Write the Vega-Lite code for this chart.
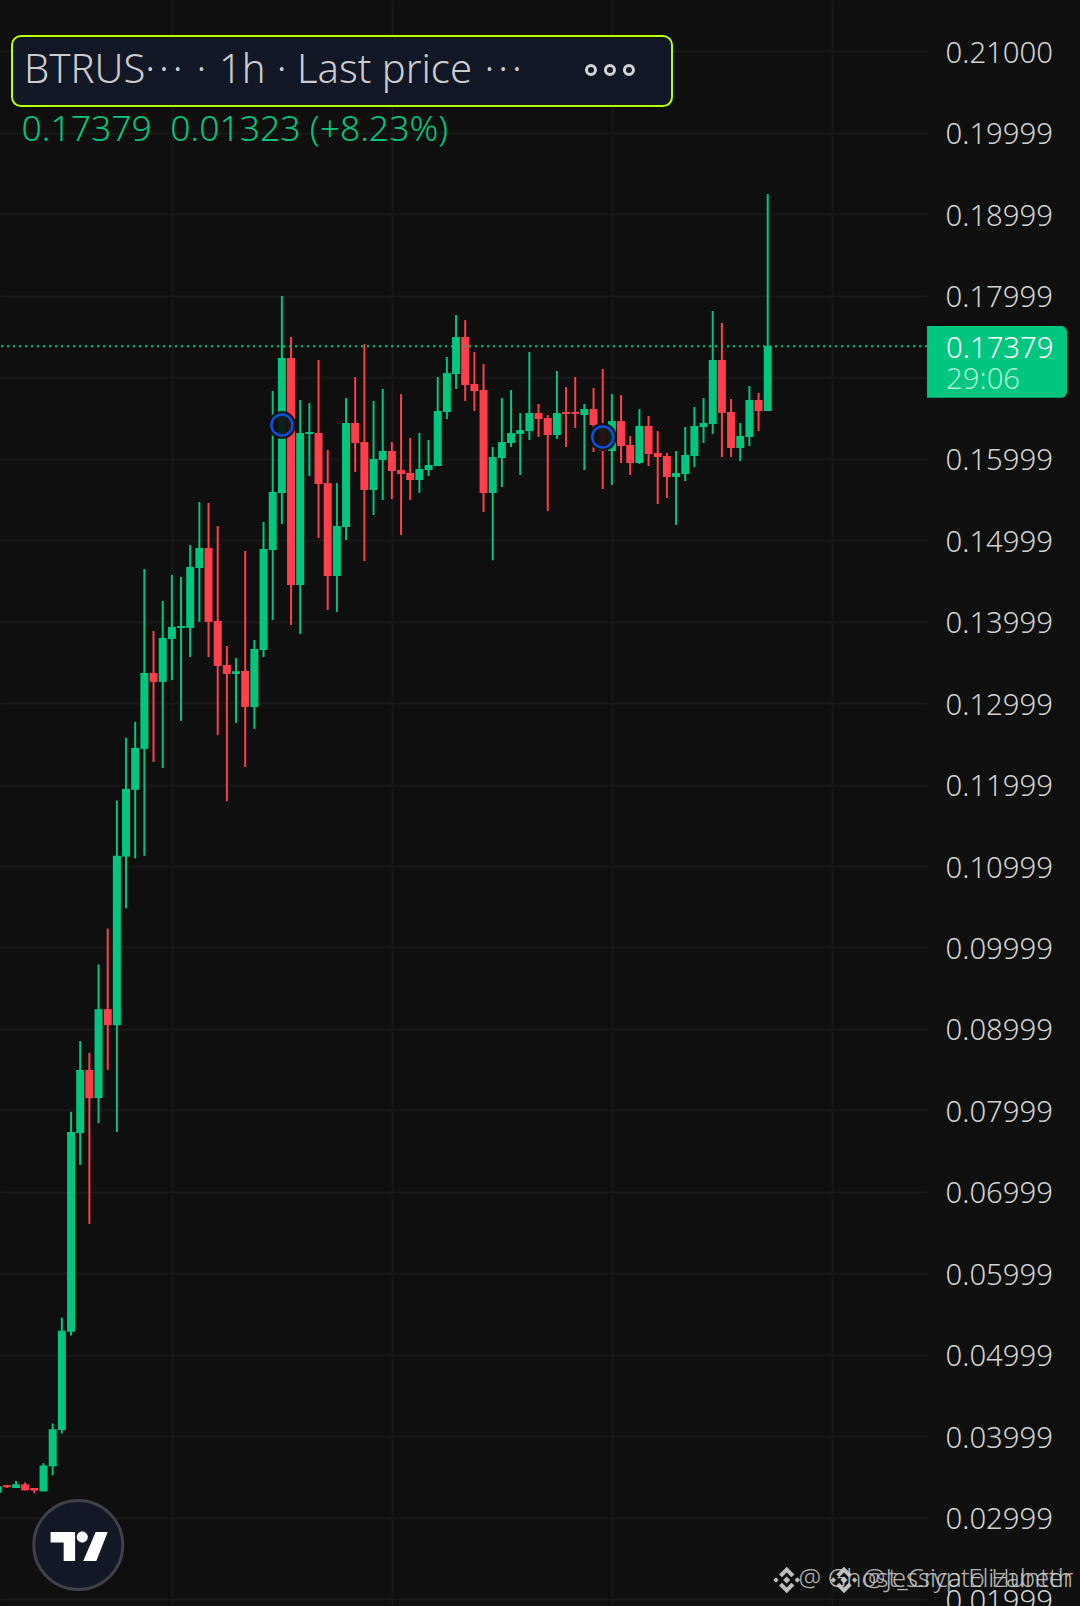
{
  "$schema": "https://vega.github.io/schema/vega-lite/v6.json",
  "width": 927,
  "height": 1606,
  "padding": {"left": 0, "top": 0, "right": 153, "bottom": 0},
  "autosize": {"type": "none"},
  "background": "#0f0f0f",
  "config": {
    "view": {"stroke": null},
    "font": "Noto Sans",
    "text": {"font": "Noto Sans"}
  },
  "resolve": {"axis": {"x": "independent", "y": "independent"}},
  "data": {
    "values": [
      {"i":0,"open":0.03306,"high":0.03387,"low":0.03306,"close":0.03387},
      {"i":1,"open":0.03398,"high":0.03398,"low":0.03364,"close":0.03375},
      {"i":2,"open":0.03364,"high":0.0345,"low":0.03364,"close":0.0341},
      {"i":3,"open":0.0341,"high":0.03433,"low":0.03335,"close":0.03335},
      {"i":4,"open":0.03364,"high":0.03364,"low":0.033,"close":0.03335},
      {"i":5,"open":0.03323,"high":0.0367,"low":0.03323,"close":0.03641},
      {"i":6,"open":0.0363,"high":0.04156,"low":0.0352,"close":0.04086},
      {"i":7,"open":0.04075,"high":0.05456,"low":0.04034,"close":0.05294},
      {"i":8,"open":0.05283,"high":0.07982,"low":0.05236,"close":0.07733},
      {"i":9,"open":0.07722,"high":0.08849,"low":0.07329,"close":0.08496},
      {"i":10,"open":0.08496,"high":0.08704,"low":0.06606,"close":0.0815},
      {"i":11,"open":0.0815,"high":0.09791,"low":0.07843,"close":0.09242},
      {"i":12,"open":0.09242,"high":0.1023,"low":0.08496,"close":0.09045},
      {"i":13,"open":0.09045,"high":0.11802,"low":0.07733,"close":0.11126},
      {"i":14,"open":0.11115,"high":0.12572,"low":0.10479,"close":0.11946},
      {"i":15,"open":0.11934,"high":0.12768,"low":0.11092,"close":0.12449},
      {"i":16,"open":0.12437,"high":0.14645,"low":0.11126,"close":0.13369},
      {"i":17,"open":0.13369,"high":0.13884,"low":0.12277,"close":0.13259},
      {"i":18,"open":0.13259,"high":0.14253,"low":0.12203,"close":0.13799},
      {"i":19,"open":0.13786,"high":0.14572,"low":0.13283,"close":0.13934},
      {"i":20,"open":0.13921,"high":0.14547,"low":0.1278,"close":0.13946},
      {"i":21,"open":0.13921,"high":0.1494,"low":0.13565,"close":0.1467},
      {"i":22,"open":0.14657,"high":0.15467,"low":0.13995,"close":0.14903},
      {"i":23,"open":0.14903,"high":0.15455,"low":0.13565,"close":0.13995},
      {"i":24,"open":0.14007,"high":0.15173,"low":0.12608,"close":0.13455},
      {"i":25,"open":0.13467,"high":0.137,"low":0.11794,"close":0.13357},
      {"i":26,"open":0.13357,"high":0.13553,"low":0.12756,"close":0.1339},
      {"i":27,"open":0.13394,"high":0.14866,"low":0.12216,"close":0.12952},
      {"i":28,"open":0.12952,"high":0.13774,"low":0.12682,"close":0.13664},
      {"i":29,"open":0.13651,"high":0.15222,"low":0.13565,"close":0.14891},
      {"i":30,"open":0.14878,"high":0.16829,"low":0.14019,"close":0.1559},
      {"i":31,"open":0.15578,"high":0.17995,"low":0.15197,"close":0.17234},
      {"i":32,"open":0.17234,"high":0.17492,"low":0.13958,"close":0.14449},
      {"i":33,"open":0.14449,"high":0.16719,"low":0.13848,"close":0.16314},
      {"i":34,"open":0.16302,"high":0.16682,"low":0.15786,"close":0.16326},
      {"i":35,"open":0.16314,"high":0.1721,"low":0.15026,"close":0.15688},
      {"i":36,"open":0.157,"high":0.16105,"low":0.14142,"close":0.14559},
      {"i":37,"open":0.14559,"high":0.157,"low":0.14118,"close":0.15173},
      {"i":38,"open":0.15161,"high":0.16743,"low":0.15001,"close":0.16437},
      {"i":39,"open":0.16437,"high":0.17001,"low":0.15835,"close":0.16191},
      {"i":40,"open":0.16203,"high":0.17406,"low":0.14743,"close":0.15615},
      {"i":41,"open":0.15615,"high":0.16707,"low":0.15308,"close":0.15995},
      {"i":42,"open":0.15983,"high":0.16854,"low":0.15492,"close":0.16093},
      {"i":43,"open":0.16093,"high":0.16203,"low":0.15504,"close":0.15848},
      {"i":44,"open":0.1586,"high":0.16792,"low":0.15062,"close":0.15811},
      {"i":45,"open":0.15823,"high":0.16253,"low":0.15492,"close":0.15737},
      {"i":46,"open":0.15737,"high":0.16314,"low":0.15578,"close":0.15872},
      {"i":47,"open":0.1586,"high":0.16228,"low":0.15786,"close":0.15921},
      {"i":48,"open":0.15909,"high":0.17001,"low":0.15909,"close":0.16584},
      {"i":49,"open":0.16572,"high":0.17246,"low":0.16486,"close":0.1705},
      {"i":50,"open":0.17038,"high":0.17762,"low":0.16854,"close":0.17492},
      {"i":51,"open":0.17492,"high":0.177,"low":0.16707,"close":0.16903},
      {"i":52,"open":0.16915,"high":0.17308,"low":0.16584,"close":0.16829},
      {"i":53,"open":0.16842,"high":0.17161,"low":0.15345,"close":0.15578},
      {"i":54,"open":0.15578,"high":0.16142,"low":0.14752,"close":0.16019},
      {"i":55,"open":0.16007,"high":0.16743,"low":0.15651,"close":0.16203},
      {"i":56,"open":0.16191,"high":0.16842,"low":0.16142,"close":0.16314},
      {"i":57,"open":0.16302,"high":0.16559,"low":0.15799,"close":0.16351},
      {"i":58,"open":0.16338,"high":0.17308,"low":0.16228,"close":0.16559},
      {"i":59,"open":0.16559,"high":0.1667,"low":0.16265,"close":0.16486},
      {"i":60,"open":0.16498,"high":0.16535,"low":0.15357,"close":0.16289},
      {"i":61,"open":0.16289,"high":0.17075,"low":0.1624,"close":0.16559},
      {"i":62,"open":0.16572,"high":0.16878,"low":0.16142,"close":0.16547},
      {"i":63,"open":0.16572,"high":0.17001,"low":0.16375,"close":0.16547},
      {"i":64,"open":0.16535,"high":0.1667,"low":0.1586,"close":0.16608},
      {"i":65,"open":0.16608,"high":0.16866,"low":0.16081,"close":0.16412},
      {"i":66,"open":0.16412,"high":0.17099,"low":0.15627,"close":0.16093},
      {"i":67,"open":0.16093,"high":0.16792,"low":0.15676,"close":0.16461},
      {"i":68,"open":0.16461,"high":0.1678,"low":0.15946,"close":0.16154},
      {"i":69,"open":0.16167,"high":0.16277,"low":0.15799,"close":0.15946},
      {"i":70,"open":0.15946,"high":0.16608,"low":0.15934,"close":0.164},
      {"i":71,"open":0.164,"high":0.16523,"low":0.15909,"close":0.16056},
      {"i":72,"open":0.16069,"high":0.16338,"low":0.15443,"close":0.16019},
      {"i":73,"open":0.16032,"high":0.16069,"low":0.15516,"close":0.15774},
      {"i":74,"open":0.15774,"high":0.16093,"low":0.15185,"close":0.15823},
      {"i":75,"open":0.15811,"high":0.16388,"low":0.15725,"close":0.16044},
      {"i":76,"open":0.16032,"high":0.16633,"low":0.15897,"close":0.164},
      {"i":77,"open":0.16388,"high":0.16743,"low":0.16191,"close":0.16437},
      {"i":78,"open":0.16424,"high":0.17811,"low":0.16302,"close":0.1721},
      {"i":79,"open":0.1721,"high":0.17664,"low":0.16019,"close":0.16559},
      {"i":80,"open":0.16572,"high":0.16731,"low":0.16019,"close":0.1613},
      {"i":81,"open":0.1613,"high":0.16437,"low":0.1597,"close":0.16277},
      {"i":82,"open":0.16265,"high":0.16891,"low":0.16154,"close":0.16719},
      {"i":83,"open":0.16719,"high":0.16805,"low":0.16338,"close":0.16584},
      {"i":84,"open":0.16584,"high":0.19246,"low":0.16584,"close":0.17379}
    ]
  },
  "layer": [
    {
      "mark": {"type": "rule", "strokeWidth": 2},
      "encoding": {
        "x": {
          "field": "i",
          "type": "quantitative",
          "scale": {"domain": [0.251, 101.375], "nice": false, "zero": false, "padding": 0},
          "axis": {
            "orient": "bottom",
            "values": [19, 43, 67, 91],
            "labels": false,
            "ticks": false,
            "domain": false,
            "title": null,
            "grid": true,
            "gridColor": "#191919",
            "gridWidth": 2
          }
        },
        "y": {
          "field": "high",
          "type": "quantitative",
          "scale": {"domain": [0.01916, 0.21629], "nice": false, "zero": false},
          "axis": {
            "orient": "right",
            "values": [0.21, 0.19999, 0.18999, 0.17999, 0.16999, 0.15999, 0.14999, 0.13999, 0.12999, 0.11999, 0.10999, 0.09999, 0.08999, 0.07999, 0.06999, 0.05999, 0.04999, 0.03999, 0.02999, 0.01999],
            "format": ".5f",
            "ticks": false,
            "domain": false,
            "title": null,
            "grid": true,
            "gridColor": "#191919",
            "gridWidth": 2,
            "labelPadding": 18,
            "labelOffset": 2,
            "labelFont": "Noto Sans",
            "labelFontSize": 29.3,
            "labelFontWeight": 300,
            "labelColor": "#d2d2d2",
            "labelOverlap": false,
            "labelBound": false,
            "labelFlush": false
          }
        },
        "y2": {"field": "low"},
        "color": {"condition": {"test": "datum.close >= datum.open", "value": "#00c67f"}, "value": "#ff3f4c"}
      }
    },
    {
      "mark": {"type": "bar", "size": 8},
      "encoding": {
        "x": {"field": "i", "type": "quantitative", "axis": null},
        "y": {"field": "open", "type": "quantitative", "axis": null},
        "y2": {"field": "close"},
        "color": {"condition": {"test": "datum.close >= datum.open", "value": "#00c67f"}, "value": "#ff3f4c"}
      }
    },
    {
      "data": {"values": [{"price": 0.17379}]},
      "mark": {"type": "rule", "stroke": "#00c67f", "strokeWidth": 2, "strokeDash": [2, 4]},
      "encoding": {"y": {"field": "price", "type": "quantitative", "axis": null}}
    },
    {
      "data": {"values": [{"i": 31, "price": 0.16412}, {"i": 66, "price": 0.16265}]},
      "mark": {"type": "point", "filled": false, "fill": "#0f0f0f", "fillOpacity": 1, "stroke": "#0f0f0f", "strokeWidth": 3, "opacity": 0.9, "size": 625},
      "encoding": {
        "x": {"field": "i", "type": "quantitative", "axis": null},
        "y": {"field": "price", "type": "quantitative", "axis": null}
      }
    },
    {
      "data": {"values": [{"i": 31, "price": 0.16412}, {"i": 66, "price": 0.16265}]},
      "mark": {"type": "point", "filled": false, "stroke": "#0b50dc", "strokeWidth": 2.5, "opacity": 1, "size": 441},
      "encoding": {
        "x": {"field": "i", "type": "quantitative", "axis": null},
        "y": {"field": "price", "type": "quantitative", "axis": null}
      }
    },
    {
      "data": {"values": [{"i": 1.56, "i2": 73.56, "p": 0.21187, "p2": 0.20327}]},
      "mark": {"type": "rect", "fill": "#121726", "stroke": "#b9ff00", "strokeWidth": 2, "cornerRadius": 9},
      "encoding": {
        "x": {"field": "i", "type": "quantitative", "axis": null},
        "x2": {"field": "i2"},
        "y": {"field": "p", "type": "quantitative", "axis": null},
        "y2": {"field": "p2"}
      }
    },
    {
      "data": {
        "values": [
          {"i": 2.87, "p": 0.2061, "label": "BTRUS·\u200a·\u200a·"},
          {"i": 21.7, "p": 0.2061, "label": "·"},
          {"i": 24.14, "p": 0.2061, "label": "1h"},
          {"i": 30.43, "p": 0.2061, "label": "·"},
          {"i": 32.65, "p": 0.2061, "label": "Last price"},
          {"i": 53.1, "p": 0.2061, "label": "·\u200a·\u200a·"}
        ]
      },
      "mark": {"type": "text", "align": "left", "baseline": "alphabetic", "fontSize": 40, "fontWeight": 300, "color": "#cccccc"},
      "encoding": {
        "x": {"field": "i", "type": "quantitative", "axis": null},
        "y": {"field": "p", "type": "quantitative", "axis": null},
        "text": {"field": "label"}
      }
    },
    {
      "data": {"values": [{"i": 64.72, "p": 0.20769}, {"i": 66.79, "p": 0.20769}, {"i": 68.86, "p": 0.20769}]},
      "mark": {"type": "point", "filled": false, "stroke": "#d4d4d4", "strokeWidth": 3, "opacity": 1, "size": 81},
      "encoding": {
        "x": {"field": "i", "type": "quantitative", "axis": null},
        "y": {"field": "p", "type": "quantitative", "axis": null}
      }
    },
    {
      "data": {"values": [{"i": 2.6, "p": 0.19897, "label": "0.17379\u00a0\u00a00.01323 (+8.23%)"}]},
      "mark": {"type": "text", "align": "left", "baseline": "alphabetic", "fontSize": 35.5, "fontWeight": 300, "color": "#00c67f"},
      "encoding": {
        "x": {"field": "i", "type": "quantitative", "axis": null},
        "y": {"field": "p", "type": "quantitative", "axis": null},
        "text": {"field": "label"}
      }
    },
    {
      "data": {"values": [{"i": 101.38, "i2": 116.65, "p": 0.17627, "p2": 0.16747}]},
      "mark": {"type": "rect", "fill": "#00c67f", "cornerRadiusTopRight": 6, "cornerRadiusBottomRight": 6},
      "encoding": {
        "x": {"field": "i", "type": "quantitative", "axis": null},
        "x2": {"field": "i2"},
        "y": {"field": "p", "type": "quantitative", "axis": null},
        "y2": {"field": "p2"}
      }
    },
    {
      "data": {"values": [{"i": 103.45, "p": 0.17235, "label": "0.17379"}]},
      "mark": {"type": "text", "align": "left", "baseline": "alphabetic", "fontSize": 29.3, "fontWeight": 300, "color": "#ffffff"},
      "encoding": {
        "x": {"field": "i", "type": "quantitative", "axis": null},
        "y": {"field": "p", "type": "quantitative", "axis": null},
        "text": {"field": "label"}
      }
    },
    {
      "data": {"values": [{"i": 103.45, "p": 0.16854, "label": "29:06"}]},
      "mark": {"type": "text", "align": "left", "baseline": "alphabetic", "fontSize": 29.3, "fontWeight": 300, "color": "#a9efd5"},
      "encoding": {
        "x": {"field": "i", "type": "quantitative", "axis": null},
        "y": {"field": "p", "type": "quantitative", "axis": null},
        "text": {"field": "label"}
      }
    },
    {
      "data": {"values": [{"i": 8.79, "p": 0.02665}]},
      "mark": {"type": "point", "filled": false, "fill": "#131826", "fillOpacity": 1, "stroke": "#3f4147", "strokeWidth": 3, "opacity": 1, "size": 7921},
      "encoding": {
        "x": {"field": "i", "type": "quantitative", "axis": null},
        "y": {"field": "p", "type": "quantitative", "axis": null}
      }
    },
    {
      "data": {"values": [{"i": 8.87, "p": 0.02644}]},
      "mark": {
        "type": "point",
        "filled": true,
        "fill": "#ffffff",
        "opacity": 1,
        "size": 3300,
        "shape": "M-0.99,-0.51L-0.136,-0.51L-0.136,0.5L-0.534,0.5L-0.534,-0.148L-0.99,-0.148ZM0.58,-0.51L1,-0.51L0.602,0.5L0.148,0.5ZM-0.08,-0.34a0.193,0.193 0 1,0 0.386,0a0.193,0.193 0 1,0 -0.386,0Z"
      },
      "encoding": {
        "x": {"field": "i", "type": "quantitative", "axis": null},
        "y": {"field": "p", "type": "quantitative", "axis": null}
      }
    },
    {
      "data": {"values": [{"i": 86.07, "p": 0.02235}, {"i": 92.32, "p": 0.02235}]},
      "mark": {
        "type": "point",
        "filled": true,
        "fill": "#d0d0d0",
        "opacity": 0.9,
        "size": 708,
        "shape": "M0,-0.27L0.27,0L0,0.27L-0.27,0ZM-1,0L-0.8,-0.2L-0.6,0L-0.8,0.2ZM1,0L0.8,-0.2L0.6,0L0.8,0.2ZM0,-1L0.58,-0.42L0.36,-0.2L0,-0.56L-0.36,-0.2L-0.58,-0.42ZM0,1L0.58,0.42L0.36,0.2L0,0.56L-0.36,0.2L-0.58,0.42Z"
      },
      "encoding": {
        "x": {"field": "i", "type": "quantitative", "axis": null},
        "y": {"field": "p", "type": "quantitative", "axis": null}
      }
    },
    {
      "data": {"values": [{"i": 117.3, "p": 0.02149, "label": "@ Ghost_Crypto Hunter"}, {"i": 117.3, "p": 0.02149, "label": "@Jessica Elizabeth"}]},
      "mark": {"type": "text", "align": "right", "baseline": "alphabetic", "fontSize": 25.5, "fontWeight": 300, "color": "#cfcfcf", "opacity": 0.85},
      "encoding": {
        "x": {"field": "i", "type": "quantitative", "axis": null},
        "y": {"field": "p", "type": "quantitative", "axis": null},
        "text": {"field": "label"}
      }
    }
  ]
}
